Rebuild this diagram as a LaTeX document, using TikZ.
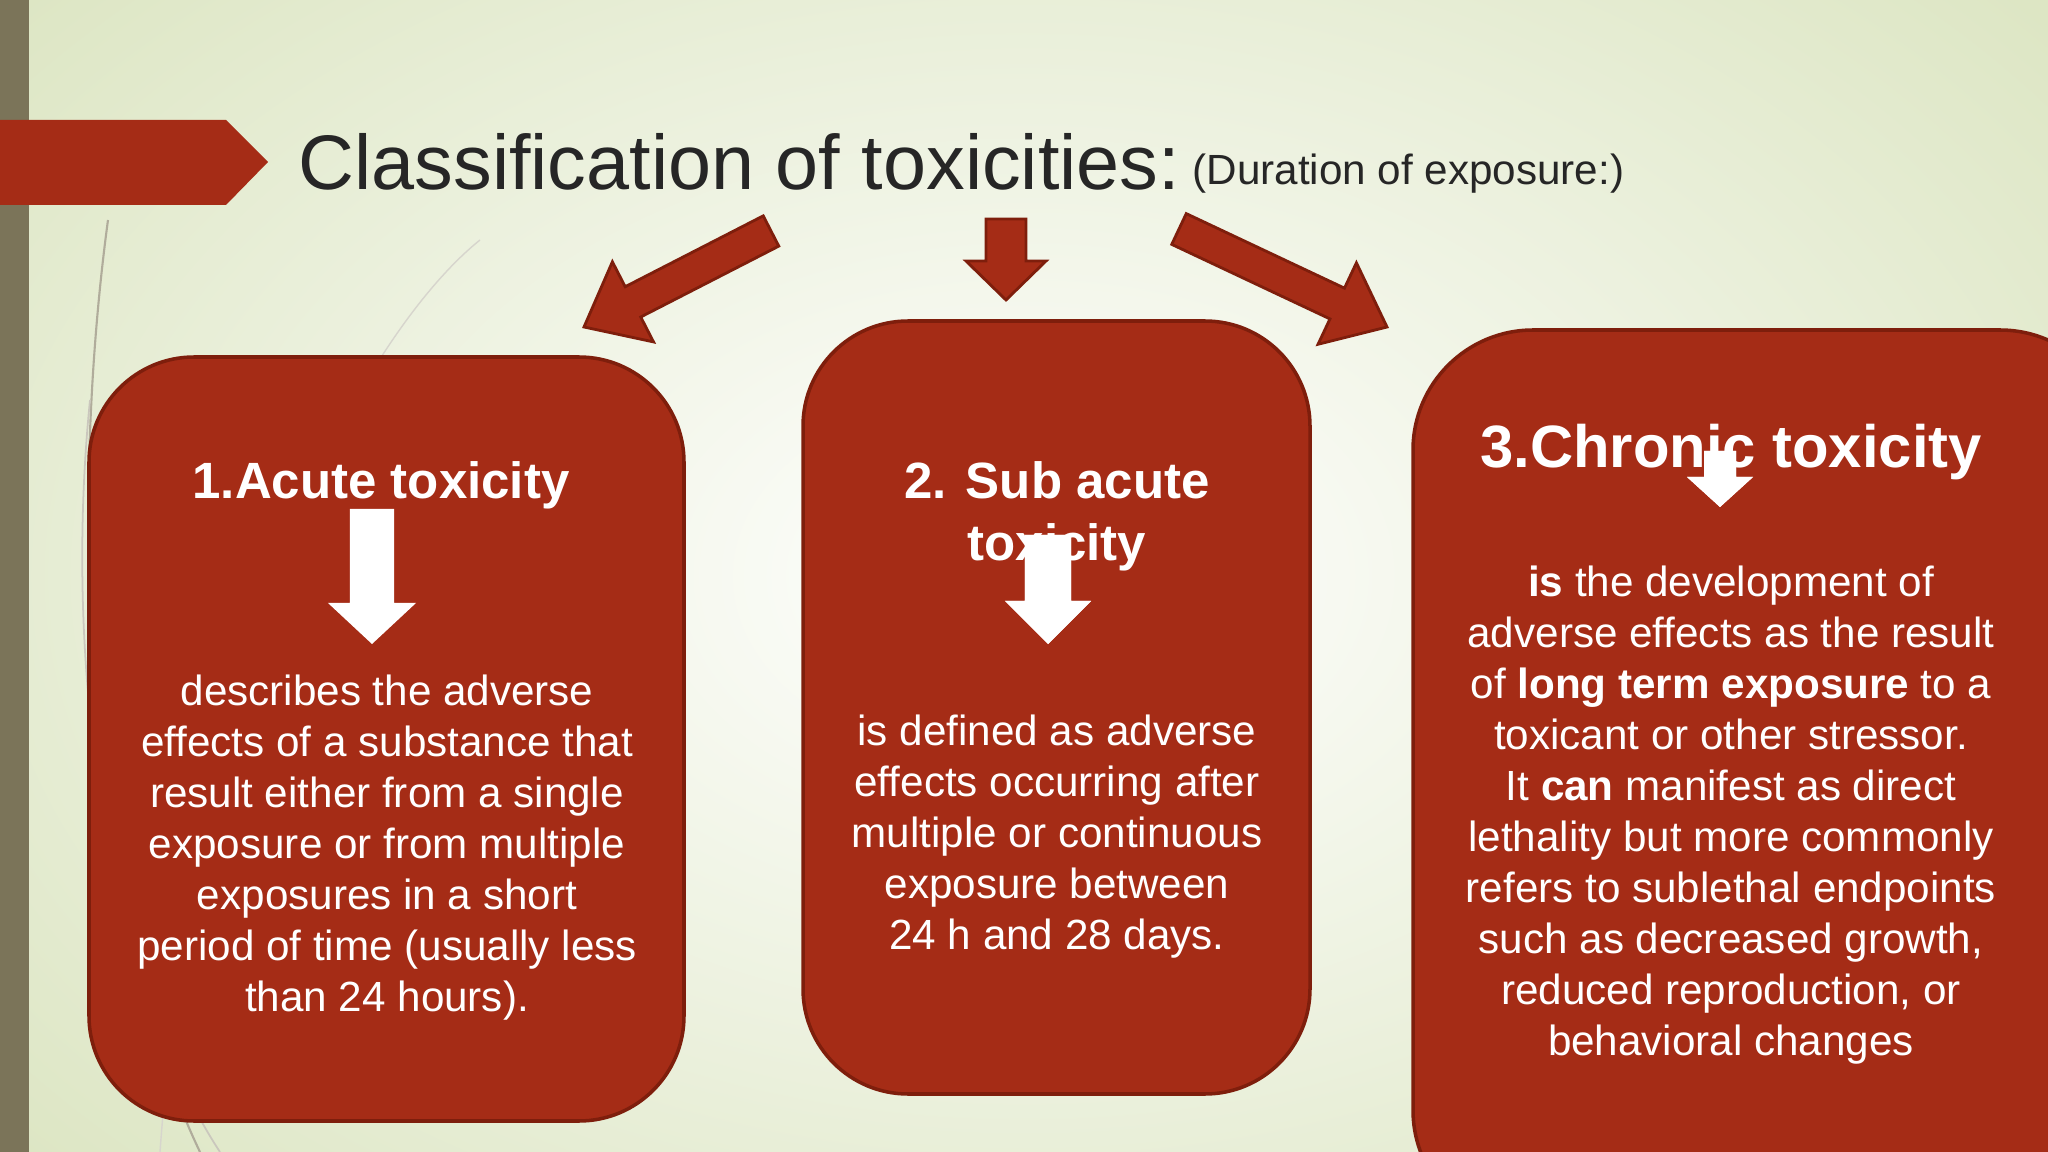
\documentclass[tikz,border=0pt]{standalone}
\usepackage{fontspec}
\setmainfont{Liberation Sans}
\usetikzlibrary{calc}
\definecolor{redb}{HTML}{A52C16}
\definecolor{redd}{HTML}{7E1E0C}
\definecolor{bgc}{HTML}{DDE6C4}
\definecolor{barc}{HTML}{7B7459}
\newcommand\blkarrow[6]{%
 \path (#2) coordinate (bT) (#3) coordinate (bP);
 \path ($(bP)!#6!(bT)$) coordinate (bH);
 \draw[#1] ($(bT)!#4!90:(bP)$) -- ($(bH)!#4!-90:(bT)$) -- ($(bH)!#5!-90:(bT)$) -- (bP) -- ($(bH)!#5!90:(bT)$) -- ($(bH)!#4!90:(bT)$) -- ($(bT)!#4!-90:(bP)$) -- cycle;}
\begin{document}
\begin{tikzpicture}[x=0.01cm,y=-0.01cm,
 box/.style={fill=redb,draw=redd,line width=1pt,rounded corners=1.05cm},
 redarrow/.style={fill=redb,draw=redd,line width=0.8pt,line join=miter},
 whitearrow/.style={fill=white,draw=none},
 ttl/.style={text=white,font=\bfseries\fontsize{14.5pt}{17.6pt}\selectfont,align=center},
 body/.style={text=white,font=\fontsize{12pt}{14.5pt}\selectfont,align=center}]
\useasboundingbox (0,0) rectangle (2048,1152);
\clip (0,0) rectangle (2048,1152);
\shade[inner color=white,outer color=bgc] (-300,-300) rectangle (2348,1452);
% decorative grass lines
\draw[barc!60,line width=0.6pt] (108,220) .. controls (70,500) and (80,900) .. (200,1152);
\draw[barc!40,line width=0.5pt] (90,400) .. controls (60,700) and (120,1000) .. (220,1152);
\draw[barc!30,line width=0.4pt] (480,240) .. controls (380,320) and (200,600) .. (160,1152);
\fill[barc] (0,0) rectangle (29,1152);
% title banner
\fill[redb] (0,120) -- (226,120) -- (268,162) -- (226,205) -- (0,205) -- cycle;
\node[anchor=base west,inner sep=0,font=\fontsize{22pt}{26pt}\selectfont,text=black!85] (title) at (298,190) {Classification of toxicities:};
\node[anchor=base west,inner sep=0,font=\fontsize{12pt}{14pt}\selectfont,text=black!85] (sub) at (1192,185) {(Duration of exposure:)};
% top arrows
\coordinate (la) at (771,231); \coordinate (lt) at (584,327);
\coordinate (ma) at (1006,219); \coordinate (mt) at (1006,300);
\coordinate (ra) at (1179,229); \coordinate (rt) at (1387,327);
\blkarrow{redarrow}{la}{lt}{0.17cm}{0.45cm}{0.55cm}
\blkarrow{redarrow}{ma}{mt}{0.20cm}{0.40cm}{0.39cm}
\blkarrow{redarrow}{ra}{rt}{0.17cm}{0.45cm}{0.55cm}
% boxes
\draw[box] (89,357) rectangle (684,1121);
\draw[box] (803,321) rectangle (1310,1094);
\draw[box,rounded corners=1.2cm] (1413,330) rectangle (2120,1230);
% white arrows
\coordinate (a1) at (372,509); \coordinate (b1) at (372,644);
\coordinate (a2) at (1048,535); \coordinate (b2) at (1048,644);
\coordinate (a3) at (1720,451); \coordinate (b3) at (1720,507);
\blkarrow{whitearrow}{a1}{b1}{0.22cm}{0.44cm}{0.41cm}
\blkarrow{whitearrow}{a2}{b2}{0.23cm}{0.43cm}{0.43cm}
\blkarrow{whitearrow}{a3}{b3}{0.16cm}{0.33cm}{0.30cm}
% texts
\node[ttl] (t1) at (381,485) {1.Acute toxicity};
\node[ttl] (t2) at (1057,516) {2. Sub acute\\toxicity};
\node[ttl,font=\bfseries\fontsize{17pt}{20pt}\selectfont] (t3) at (1731,452) {3.Chronic toxicity};
\blkarrow{whitearrow}{a2}{b2}{0.23cm}{0.43cm}{0.43cm}
\blkarrow{whitearrow}{a3}{b3}{0.16cm}{0.33cm}{0.30cm}
\node[body] (d1) at (387,848) {describes the adverse\\effects of a substance that\\result either from a single\\exposure or from multiple\\exposures in a short\\period of time (usually less\\than 24 hours).};
\node[body] (d2) at (1057,837) {is defined as adverse\\effects occurring after\\multiple or continuous\\exposure between\\24 h and 28 days.};
\node[body] (d3) at (1731,815) {\textbf{is} the development of\\adverse effects as the result\\of \textbf{long term exposure} to a\\toxicant or other stressor.\\It \textbf{can} manifest as direct\\lethality but more commonly\\refers to sublethal endpoints\\such as decreased growth,\\reduced reproduction, or\\behavioral changes};
\end{tikzpicture}
\end{document}
